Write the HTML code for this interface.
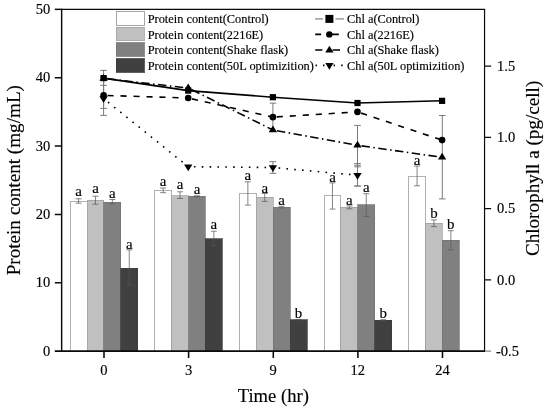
<!DOCTYPE html>
<html lang="en"><head><meta charset="utf-8"><title>Protein content and Chlorophyll a</title>
<style>html,body{margin:0;padding:0;background:#fff}body{width:550px;height:412px;overflow:hidden}svg{display:block}text{font-family:"Liberation Serif","DejaVu Serif",serif;fill:#000;stroke:#000;stroke-width:0.15px}</style></head><body>
<svg width="550" height="412" viewBox="0 0 550 412">
<rect width="550" height="412" fill="#fff"/>
<g shape-rendering="crispEdges">
<rect x="70.10" y="201.00" width="16.90" height="150.10" fill="#ffffff" stroke="#8e8e8e" stroke-width="0.7"/>
<rect x="87.00" y="200.30" width="16.90" height="150.80" fill="#c0c0c0" stroke="#9c9c9c" stroke-width="0.7"/>
<rect x="103.90" y="202.00" width="16.90" height="149.10" fill="#808080" stroke="#747474" stroke-width="0.7"/>
<rect x="120.80" y="268.00" width="16.90" height="83.10" fill="#404040" stroke="#3c3c3c" stroke-width="0.7"/>
<rect x="154.70" y="190.40" width="16.90" height="160.70" fill="#ffffff" stroke="#8e8e8e" stroke-width="0.7"/>
<rect x="171.60" y="195.60" width="16.90" height="155.50" fill="#c0c0c0" stroke="#9c9c9c" stroke-width="0.7"/>
<rect x="188.50" y="196.20" width="16.90" height="154.90" fill="#808080" stroke="#747474" stroke-width="0.7"/>
<rect x="205.40" y="238.50" width="16.90" height="112.60" fill="#404040" stroke="#3c3c3c" stroke-width="0.7"/>
<rect x="239.40" y="193.50" width="16.90" height="157.60" fill="#ffffff" stroke="#8e8e8e" stroke-width="0.7"/>
<rect x="256.30" y="197.30" width="16.90" height="153.80" fill="#c0c0c0" stroke="#9c9c9c" stroke-width="0.7"/>
<rect x="273.20" y="207.20" width="16.90" height="143.90" fill="#808080" stroke="#747474" stroke-width="0.7"/>
<rect x="290.10" y="319.60" width="16.90" height="31.50" fill="#404040" stroke="#3c3c3c" stroke-width="0.7"/>
<rect x="324.00" y="195.70" width="16.90" height="155.40" fill="#ffffff" stroke="#8e8e8e" stroke-width="0.7"/>
<rect x="340.90" y="207.40" width="16.90" height="143.70" fill="#c0c0c0" stroke="#9c9c9c" stroke-width="0.7"/>
<rect x="357.80" y="204.80" width="16.90" height="146.30" fill="#808080" stroke="#747474" stroke-width="0.7"/>
<rect x="374.70" y="320.00" width="16.90" height="31.10" fill="#404040" stroke="#3c3c3c" stroke-width="0.7"/>
<rect x="408.60" y="176.20" width="16.90" height="174.90" fill="#ffffff" stroke="#8e8e8e" stroke-width="0.7"/>
<rect x="425.50" y="223.40" width="16.90" height="127.70" fill="#c0c0c0" stroke="#9c9c9c" stroke-width="0.7"/>
<rect x="442.40" y="240.30" width="16.90" height="110.80" fill="#808080" stroke="#747474" stroke-width="0.7"/>
</g>
<g stroke="#5c5c5c" stroke-width="0.75" fill="none">
<path d="M78.55 198.80V203.20M75.55 198.80H81.55M75.55 203.20H81.55"/>
<path d="M95.45 196.20V204.20M92.45 196.20H98.45M92.45 204.20H98.45"/>
<path d="M112.35 199.50V203.90M109.35 199.50H115.35M109.35 203.90H115.35"/>
<path d="M129.25 249.90V268.00M126.25 249.90H132.25"/>
<path d="M129.25 268.00V284.90M126.25 284.90H132.25" stroke="#535353"/>
<path d="M163.15 188.00V192.70M160.15 188.00H166.15M160.15 192.70H166.15"/>
<path d="M180.05 191.80V198.50M177.05 191.80H183.05M177.05 198.50H183.05"/>
<path d="M196.95 195.80V196.80M193.95 195.80H199.95M193.95 196.80H199.95"/>
<path d="M213.85 231.20V238.50M210.85 231.20H216.85"/>
<path d="M213.85 238.50V245.70M210.85 245.70H216.85" stroke="#535353"/>
<path d="M247.85 181.80V205.10M244.85 181.80H250.85M244.85 205.10H250.85"/>
<path d="M264.75 193.50V201.40M261.75 193.50H267.75M261.75 201.40H267.75"/>
<path d="M281.65 206.30V208.00M278.65 206.30H284.65M278.65 208.00H284.65"/>
<path d="M298.55 319.40V319.60M295.55 319.40H301.55"/>
<path d="M298.55 319.60V319.90M295.55 319.90H301.55" stroke="#535353"/>
<path d="M332.45 182.90V209.10M329.45 182.90H335.45M329.45 209.10H335.45"/>
<path d="M349.35 205.90V208.80M346.35 205.90H352.35M346.35 208.80H352.35"/>
<path d="M366.25 193.70V216.40M363.25 193.70H369.25M363.25 216.40H369.25"/>
<path d="M383.15 319.80V320.00M380.15 319.80H386.15"/>
<path d="M383.15 320.00V320.30M380.15 320.30H386.15" stroke="#535353"/>
<path d="M417.05 166.00V185.80M414.05 166.00H420.05M414.05 185.80H420.05"/>
<path d="M433.95 219.90V226.60M430.95 219.90H436.95M430.95 226.60H436.95"/>
<path d="M450.85 230.70V249.90M447.85 230.70H453.85M447.85 249.90H453.85"/>
</g>
<g font-size="14.9" text-anchor="middle" style="stroke-width:0.42px">
<text x="78.55" y="196.00">a</text>
<text x="95.45" y="193.20">a</text>
<text x="112.35" y="198.20">a</text>
<text x="129.25" y="248.50">a</text>
<text x="163.15" y="186.00">a</text>
<text x="180.05" y="188.90">a</text>
<text x="196.95" y="193.90">a</text>
<text x="213.85" y="229.10">a</text>
<text x="247.85" y="180.40">a</text>
<text x="264.75" y="192.60">a</text>
<text x="281.65" y="205.10">a</text>
<text x="298.55" y="317.90">b</text>
<text x="332.45" y="181.50">a</text>
<text x="349.35" y="204.80">a</text>
<text x="366.25" y="191.70">a</text>
<text x="383.15" y="317.90">b</text>
<text x="417.05" y="164.60">a</text>
<text x="433.95" y="217.60">b</text>
<text x="450.85" y="229.20">b</text>
</g>
<g stroke="#7a7a7a" stroke-width="1" fill="none">
<path d="M103.60 70.40V85.40M100.30 70.40H106.90M100.30 85.40H106.90M103.60 77.00V108.40M100.30 77.00H106.90M100.30 108.40H106.90M103.60 77.00V115.40M100.30 77.00H106.90M100.30 115.40H106.90"/>
<path d="M272.90 103.15V131.00M269.60 103.15H276.20M269.60 131.00H276.20M272.90 161.65V173.30M269.60 161.65H276.20M269.60 173.30H276.20"/>
<path d="M357.50 125.40V165.20M354.20 125.40H360.80M354.20 165.20H360.80M357.50 166.80V186.00M354.20 166.80H360.80M354.20 186.00H360.80M357.50 163.60V186.00M354.20 163.60H360.80M354.20 186.00H360.80"/>
<path d="M442.30 115.50V198.90M439.00 115.50H445.60M439.00 198.90H445.60"/>
</g>
<g fill="none" stroke="#000" stroke-width="1.6">
<polyline points="103.6,78.1 188.2,90.6 272.9,97.2 357.5,103.0 442.1,100.8"/>
<path d="M103.60 95.40L188.20 98.00" stroke-dasharray="6.1 6.9" stroke-dashoffset="9.10"/>
<path d="M188.20 98.00L272.90 117.15" stroke-dasharray="6.1 6.9" stroke-dashoffset="9.10"/>
<path d="M272.90 117.15L357.50 111.90" stroke-dasharray="6.1 6.9" stroke-dashoffset="9.10"/>
<path d="M357.50 111.90L442.10 140.10" stroke-dasharray="6.1 6.9" stroke-dashoffset="9.10"/>
<path d="M103.60 78.40L188.20 88.00" stroke-dasharray="8.4 3.5 1.5 3.5" stroke-dashoffset="12.80"/>
<path d="M188.20 88.00L272.90 130.00" stroke-dasharray="8.4 3.5 1.5 3.5" stroke-dashoffset="12.80"/>
<path d="M272.90 130.00L357.50 145.30" stroke-dasharray="8.4 3.5 1.5 3.5" stroke-dashoffset="12.80"/>
<path d="M357.50 145.30L442.10 157.30" stroke-dasharray="8.4 3.5 1.5 3.5" stroke-dashoffset="12.80"/>
<path d="M103.60 98.50L188.20 166.70" stroke-dasharray="1.6 6.25" stroke-dashoffset="2.15"/>
<path d="M188.20 166.70L272.90 167.50" stroke-dasharray="1.6 6.25" stroke-dashoffset="2.15"/>
<path d="M272.90 167.50L357.50 175.20" stroke-dasharray="1.6 6.25" stroke-dashoffset="2.15"/>
</g>
<g fill="#000">
<rect x="100.50" y="75.00" width="6.2" height="6.2"/>
<rect x="185.10" y="87.50" width="6.2" height="6.2"/>
<rect x="269.80" y="94.10" width="6.2" height="6.2"/>
<rect x="354.40" y="99.90" width="6.2" height="6.2"/>
<rect x="439.00" y="97.75" width="6.2" height="6.2"/>
<circle cx="103.60" cy="95.40" r="3.3"/>
<circle cx="188.20" cy="98.00" r="3.3"/>
<circle cx="272.90" cy="117.15" r="3.3"/>
<circle cx="357.50" cy="111.90" r="3.3"/>
<circle cx="442.10" cy="140.10" r="3.3"/>
<path d="M103.60 73.90L107.75 80.70H99.45Z"/>
<path d="M188.20 83.50L192.35 90.30H184.05Z"/>
<path d="M272.90 125.50L277.05 132.30H268.75Z"/>
<path d="M357.50 140.80L361.65 147.60H353.35Z"/>
<path d="M442.10 152.80L446.25 159.60H437.95Z"/>
<path d="M103.60 103.00L107.75 96.20H99.45Z"/>
<path d="M188.20 171.20L192.35 164.40H184.05Z"/>
<path d="M272.90 172.00L277.05 165.20H268.75Z"/>
<path d="M357.50 179.70L361.65 172.90H353.35Z"/>
</g>
<g stroke="#0a0a0a" fill="none">
<path d="M61.65 8.65V352.0" stroke-width="1.45"/>
<path d="M54.8 351.1H485.15000000000003" stroke-width="1.8"/>
<path d="M485.15000000000003 351.1H491" stroke-width="1.2" stroke="#808080"/>
<path d="M54.8 9.35H61.65" stroke-width="1.5"/>
<path d="M61.65 9.35H485.15000000000003" stroke-width="1.3"/>
<path d="M484.55 9.35V351.1" stroke-width="1.2"/>
<path d="M54.8 282.77H61.65M54.8 214.44H61.65M54.8 146.11H61.65M54.8 77.78H61.65" stroke-width="1.5"/>
<path d="M484.55 279.85H491.1M484.55 208.60H491.1M484.55 137.35H491.1M484.55 66.10H491.1" stroke-width="1.25"/>
<path d="M104.00 351.1V357.9M188.60 351.1V357.9M273.30 351.1V357.9M357.90 351.1V357.9M442.50 351.1V357.9" stroke-width="1.55"/>
</g>
<g font-size="14.5">
<text x="50.3" y="355.65" text-anchor="end">0</text>
<text x="50.3" y="287.32" text-anchor="end">10</text>
<text x="50.3" y="218.99" text-anchor="end">20</text>
<text x="50.3" y="150.66" text-anchor="end">30</text>
<text x="50.3" y="82.33" text-anchor="end">40</text>
<text x="50.3" y="14.00" text-anchor="end">50</text>
<text x="496.0" y="355.80">-0.5</text>
<text x="497.0" y="284.55">0.0</text>
<text x="497.0" y="213.30">0.5</text>
<text x="497.0" y="142.05">1.0</text>
<text x="497.0" y="70.80">1.5</text>
<text x="103.90" y="374.7" text-anchor="middle">0</text>
<text x="188.50" y="374.7" text-anchor="middle">3</text>
<text x="273.20" y="374.7" text-anchor="middle">9</text>
<text x="357.80" y="374.7" text-anchor="middle">12</text>
<text x="442.40" y="374.7" text-anchor="middle">24</text>
</g>
<g font-size="19.15" text-anchor="middle">
<text x="273.3" y="401.6" font-size="18.6">Time (hr)</text>
<text transform="translate(20 180.2) rotate(-90)">Protein content (mg/mL)</text>
<text transform="translate(539.3 168.4) rotate(-90)">Chlorophyll a (pg/cell)</text>
</g>
<g stroke-width="0.8" shape-rendering="crispEdges">
<rect x="116.2" y="11.9" width="27.8" height="13.5" fill="#ffffff" stroke="#8e8e8e"/>
<rect x="116.2" y="27.3" width="27.8" height="13.5" fill="#c0c0c0" stroke="#a4a4a4"/>
<rect x="116.2" y="42.9" width="27.8" height="13.5" fill="#808080" stroke="#747474"/>
<rect x="116.2" y="58.6" width="27.8" height="13.5" fill="#404040" stroke="#3a3a3a"/>
</g>
<g font-size="12.35">
<text x="147.7" y="23.2">Protein content(Control)</text>
<text x="347" y="23.2">Chl a(Control)</text>
<text x="147.7" y="38.7">Protein content(2216E)</text>
<text x="347" y="38.7">Chl a(2216E)</text>
<text x="147.7" y="54.2">Protein content(Shake flask)</text>
<text x="347" y="54.2">Chl a(Shake flask)</text>
<text x="147.7" y="69.7">Protein content(50L optimizition)</text>
<text x="347" y="69.7">Chl a(50L optimizition)</text>
</g>
<g stroke-width="1.7" fill="none">
<path d="M315.1 18.9H323.1M335.5 18.9H343.9" stroke="#a8a8a8"/>
<path d="M315.2 34.4H321.1M330 34.4H338.8" stroke="#000"/>
<path d="M315.2 50.0H322.4M332.5 50.0H340" stroke="#000"/>
<path d="M315.6 65.3h1.4M323 65.3h1.5M333.6 65.3h1.4M341.2 65.3h1.5" stroke="#000"/>
</g>
<g fill="#000">
<rect x="325.40" y="14.90" width="8.0" height="8.0"/>
<circle cx="329.30" cy="34.40" r="3.2"/>
<path d="M329.40 45.70L333.55 52.50H325.25Z"/>
<path d="M329.40 69.80L333.55 63.00H325.25Z"/>
</g>
</svg></body></html>
